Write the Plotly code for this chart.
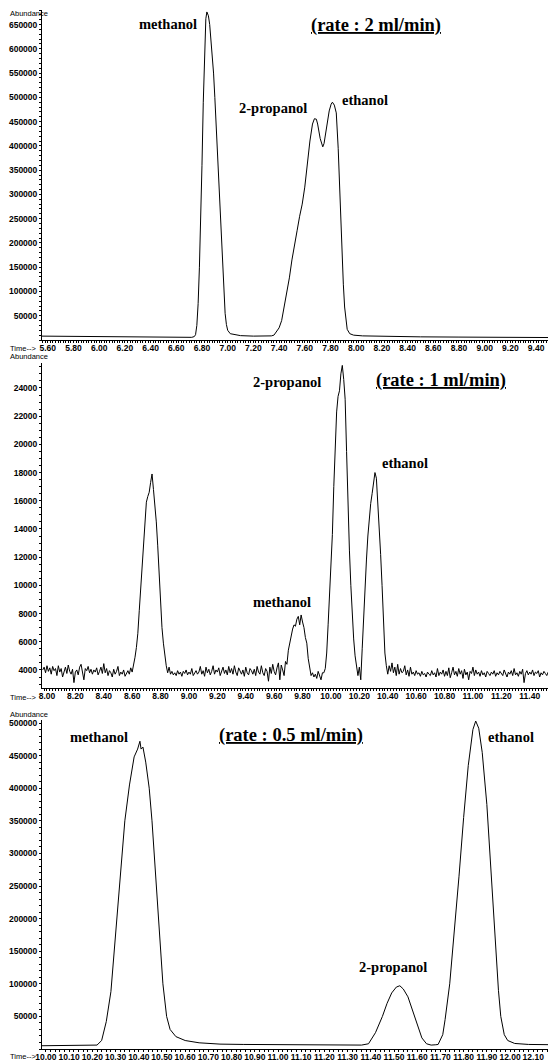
import numpy as np
import plotly.graph_objects as go
from plotly.subplots import make_subplots

# --- rate 2 ml/min ---
time_2ml = [5.555, 5.80, 6.00, 6.20, 6.40, 6.60, 6.72, 6.74, 6.75,
            6.76, 6.77, 6.78, 6.79, 6.80, 6.81, 6.82, 6.83, 6.838, 6.85, 6.86,
            6.87, 6.88, 6.89, 6.90, 6.91, 6.92, 6.93, 6.94, 6.95, 6.96, 6.97,
            6.98, 6.99, 7.00, 7.02, 7.05, 7.10, 7.20, 7.30, 7.34,
            7.36, 7.38, 7.40, 7.42, 7.44, 7.46, 7.48, 7.50, 7.52, 7.54, 7.56,
            7.58, 7.60, 7.62, 7.64, 7.66, 7.675, 7.69, 7.70, 7.72, 7.74, 7.75,
            7.77, 7.79, 7.805, 7.815, 7.83, 7.845, 7.86, 7.87, 7.88, 7.89, 7.90,
            7.91, 7.92, 7.93, 7.95, 7.98, 8.05, 8.20, 8.50, 8.80, 9.10, 9.555]
abund_2ml = [8000, 7500, 7000, 6500, 6000, 5500, 5500, 7000, 11000,
             30000, 75000, 150000, 245000, 360000, 490000, 605000, 662000, 676000, 668000, 650000,
             620000, 585000, 550000, 500000, 445000, 385000, 320000, 254000, 195000, 145000, 95000,
             55000, 32000, 20000, 13000, 11000, 9000, 8000, 8000, 8500,
             10000, 17000, 25000, 40000, 68000, 97000, 128000, 165000, 192000, 225000, 255000,
             280000, 315000, 365000, 410000, 445000, 456000, 455000, 445000, 415000, 398000, 405000,
             440000, 472000, 486000, 490000, 484000, 468000, 395000, 320000, 250000, 180000, 115000,
             68000, 38000, 22000, 13000, 10000, 8500, 7500, 6500, 6000, 5500, 5000]

# --- rate 1 ml/min (scan every 0.01 min from 7.97) ---
scan_start_1ml = 7.97
scan_step_1ml = 0.01
abund_1ml = [
    4000, 4200, 3800, 4300, 3900, 4150, 3700, 4250, 3950, 4100,
    3600, 4300, 3850, 4100, 3500, 3900, 4200, 3750, 4350, 3900,
    3700, 4050, 3100, 3850, 4000, 3650, 4200, 4400, 3800, 3300,
    4100, 3950, 4250, 3800, 4050, 3700, 4000, 3850, 4150, 3650,
    3900, 4200, 3750, 4450, 3800, 4100, 3600, 3950, 3800, 3500,
    4050, 3700, 3900, 4250, 3600, 3850, 3700, 4000, 3550, 3800,
    3950, 3700, 4150, 3850, 4300, 4900, 5600, 6600, 8200, 9800,
    11000, 12600, 14400, 15900, 16300, 16600, 17300, 17900, 16800, 15800,
    14500, 12800, 10500, 8500, 7000, 5900, 4900, 4300, 3800, 4200,
    3700, 3900, 3650, 3800, 3600, 3950, 3700, 3850, 3550, 3900,
    3750, 4000, 3650, 3850, 3700, 4100, 3600, 3800, 3950, 3700,
    3850, 4250, 3700, 3950, 3550, 4200, 3800, 4050, 3650, 3900,
    4300, 3700, 4000, 3850, 4150, 3600, 3900, 4200, 3750, 4000,
    3650, 4250, 3800, 4100, 3700, 4300, 3850, 3600, 4150, 3900,
    3700, 4000, 3550, 4200, 3800, 3650, 4100, 3950, 3700, 4050,
    3600, 4250, 3850, 3700, 4300, 3800, 3600, 4100, 3900, 3200,
    4200, 3750, 4400, 3900, 3650, 4150, 4500, 3300, 4350, 4000,
    3600, 4600, 4400, 5400, 6000, 6400, 6900, 7200, 7100, 7600,
    7800, 7200, 7900, 7400, 7000, 6300, 5900, 4800, 4000, 3600,
    3800, 3500, 3700, 3400, 3900, 3600, 3300, 3800, 3800, 4100,
    5200, 7200, 9300, 11300, 13600, 17000, 20000, 22300, 23400, 23800,
    25000, 25600, 24600, 23200, 19500, 15400, 12500, 10000, 7800, 6200,
    5000, 4300, 3600, 4200, 3300, 5500, 8000, 10000, 11800, 13500,
    14800, 15800, 16500, 17100, 18000, 17600, 16000, 14500, 12200, 10000,
    7200, 5200, 4300, 3700, 4300, 3900, 4500, 3800, 4200, 3600,
    4400, 3700, 4100, 3800, 3900, 4300, 3650, 4000, 3550, 4200,
    3700, 3850, 3600, 3950, 3700, 3800, 3550, 3900, 3650, 3750,
    3500, 3850, 3700, 3600, 3950, 3650, 3800, 3500, 4100, 3600,
    3850, 3700, 4000, 3550, 3900, 3600, 4150, 3450, 3800, 4200,
    3650, 3900, 3550, 4100, 3700, 3950, 3400, 4050, 3650, 3850,
    3300, 3900, 3750, 4200, 3600, 4000, 3700, 3850, 3550, 3950,
    3650, 3800, 3500, 3900, 3750, 3600, 3850, 3700, 3950, 3550,
    3800, 3650, 3900, 3700, 3600, 4000, 3750, 3500, 3850, 3700,
    3950, 3600, 4100, 3650, 3800, 3550, 3900, 3700, 4050, 3100,
    3750, 3950, 3650, 3850, 3700, 4000, 3600, 3850, 3750, 3950,
    3500, 3800, 3650, 3900, 3750, 3600, 3850, 3700, 3950, 3650,
    4100, 3800,
]
time_1ml = np.round(scan_start_1ml + scan_step_1ml * np.arange(len(abund_1ml)), 2)

# --- rate 0.5 ml/min ---
time_05ml = [9.983, 10.10, 10.20, 10.22, 10.24, 10.26, 10.28, 10.30, 10.32, 10.34,
             10.36, 10.38, 10.395, 10.405, 10.41, 10.418, 10.43, 10.445, 10.457, 10.47,
             10.483, 10.494, 10.504, 10.52, 10.535, 10.56, 10.60, 10.66, 10.75, 10.85,
             11.00, 11.20, 11.36, 11.39, 11.42, 11.45, 11.47, 11.49, 11.51, 11.525,
             11.54, 11.56, 11.58, 11.60, 11.62, 11.64, 11.66, 11.68, 11.69, 11.71,
             11.72, 11.74, 11.76, 11.78, 11.80, 11.82, 11.84, 11.852, 11.865, 11.88,
             11.90, 11.92, 11.94, 11.95, 11.96, 11.975, 11.99, 12.02, 12.08, 12.198]
abund_05ml = [5000, 5000, 5500, 6000, 13000, 42000, 88000, 175000, 265000, 350000,
              405000, 448000, 460000, 472000, 460000, 463000, 440000, 400000, 350000, 280000,
              200000, 140000, 100000, 50000, 30000, 19000, 13000, 9500, 7500, 7000,
              6500, 6000, 6000, 8000, 25000, 50000, 70000, 86000, 95000, 97000,
              92000, 80000, 60000, 37000, 17000, 8000, 6000, 6500, 7000, 22000,
              45000, 100000, 180000, 265000, 355000, 435000, 490000, 503000, 492000, 455000,
              375000, 260000, 140000, 90000, 50000, 22000, 13000, 8500, 7000, 6500]

yticks_2ml = [50000, 100000, 150000, 200000, 250000, 300000, 350000,
              400000, 450000, 500000, 550000, 600000, 650000]
yticks_1ml = [4000, 6000, 8000, 10000, 12000, 14000, 16000, 18000,
              20000, 22000, 24000]
yticks_05ml = [50000, 100000, 150000, 200000, 250000, 300000, 350000,
               400000, 450000, 500000]

SANS = "Liberation Sans"
SERIF = "Liberation Serif"

W, H = 556, 1063
OFF = 8  # the page body adds an 8px margin around the plot div


def xdom(left, right):
    return [(left - OFF) / W, (right - OFF) / W]


def ydom(top, bottom):
    return [1 - (bottom - OFF) / H, 1 - (top - OFF) / H]


fig = make_subplots(rows=3, cols=1)

for row, (t, a) in enumerate([(time_2ml, abund_2ml), (time_1ml, abund_1ml),
                              (time_05ml, abund_05ml)], start=1):
    fig.add_trace(go.Scatter(x=t, y=a, mode="lines",
                             line=dict(color="black", width=1)), row=row, col=1)

tick_font = dict(family=SANS, size=8.5, color="black", weight="bold")
axis_style = dict(showline=True, linecolor="black", linewidth=1, showgrid=False,
                  zeroline=False, ticks="outside", ticklen=2, tickwidth=1,
                  tickcolor="black", automargin=False, tickangle=0,
                  tickfont=tick_font)

fig.update_xaxes(**axis_style, ticklabelstandoff=-2)
fig.update_yaxes(**axis_style)

x_dom = xdom(42, 556)
minor_x = dict(dtick=0.02, ticks="outside", ticklen=2, tickcolor="black")
fig.update_xaxes(domain=x_dom, range=[5.555, 9.555], tickmode="linear", tick0=5.6, dtick=0.2,
                 tickformat=".2f", minor=minor_x, row=1, col=1)
fig.update_xaxes(domain=x_dom, range=[7.965, 11.585], tickmode="linear", tick0=8.0, dtick=0.2,
                 tickformat=".2f", minor=minor_x, row=2, col=1)
fig.update_xaxes(domain=x_dom, range=[9.983, 12.198], tickmode="linear", tick0=10.0, dtick=0.1,
                 tickformat=".2f", minor=minor_x, row=3, col=1)

fig.update_yaxes(domain=ydom(10, 340), range=[0, 680000], tickmode="array",
                 tickvals=yticks_2ml, ticktext=[str(v) for v in yticks_2ml],
                 minor=dict(dtick=10000, ticks="outside", ticklen=2, tickcolor="black"),
                 row=1, col=1)
fig.update_yaxes(domain=ydom(363, 688), range=[2720, 25770], tickmode="array",
                 tickvals=yticks_1ml, ticktext=[str(v) for v in yticks_1ml],
                 minor=dict(tick0=0, dtick=500, ticks="outside", ticklen=2, tickcolor="black"),
                 row=2, col=1)
fig.update_yaxes(domain=ydom(720, 1049), range=[0, 504600], tickmode="array",
                 tickvals=yticks_05ml, ticktext=[str(v) for v in yticks_05ml],
                 minor=dict(dtick=10000, ticks="outside", ticklen=2, tickcolor="black"),
                 row=3, col=1)

peak_font = dict(family=SERIF, size=14.5, color="black", weight="bold")
rate_font = dict(family=SERIF, size=18.5, color="black", weight="bold", lineposition="under")

labels = [
    (1, "methanol", 6.532, 651000, peak_font),
    (1, "2-propanol", 7.349, 478000, peak_font),
    (1, "ethanol", 8.068, 494600, peak_font),
    (1, "(rate : 2 ml/min)", 8.154, 649000, rate_font),
    (2, "2-propanol", 9.69, 24420, peak_font),
    (2, "(rate : 1 ml/min)", 10.778, 24560, rate_font),
    (2, "ethanol", 10.521, 18670, peak_font),
    (2, "methanol", 9.655, 8820, peak_font),
    (3, "methanol", 10.228, 478600, peak_font),
    (3, "(rate : 0.5 ml/min)", 11.054, 481600, rate_font),
    (3, "ethanol", 12.006, 478600, peak_font),
    (3, "2-propanol", 11.494, 125400, peak_font),
]
for row, text, x, y, font in labels:
    fig.add_annotation(text=text, x=x, y=y, showarrow=False, font=font,
                       xanchor="center", yanchor="middle", row=row, col=1)

small = dict(family=SANS, size=7.5, color="black")
for text, ypix in [("Abundance", 13), ("Time-->", 348),
                   ("Abundance", 357), ("Time-->", 697),
                   ("Abundance", 714), ("Time-->", 1056)]:
    fig.add_annotation(text=text, xref="paper", yref="paper", x=0.0,
                       y=1 - (ypix - OFF) / H, xanchor="left", yanchor="middle",
                       showarrow=False, font=small)

fig.update_layout(width=W, height=H, margin=dict(l=0, r=0, t=0, b=0),
                  plot_bgcolor="white", paper_bgcolor="white", showlegend=False)

fig.write_html("out.html")
